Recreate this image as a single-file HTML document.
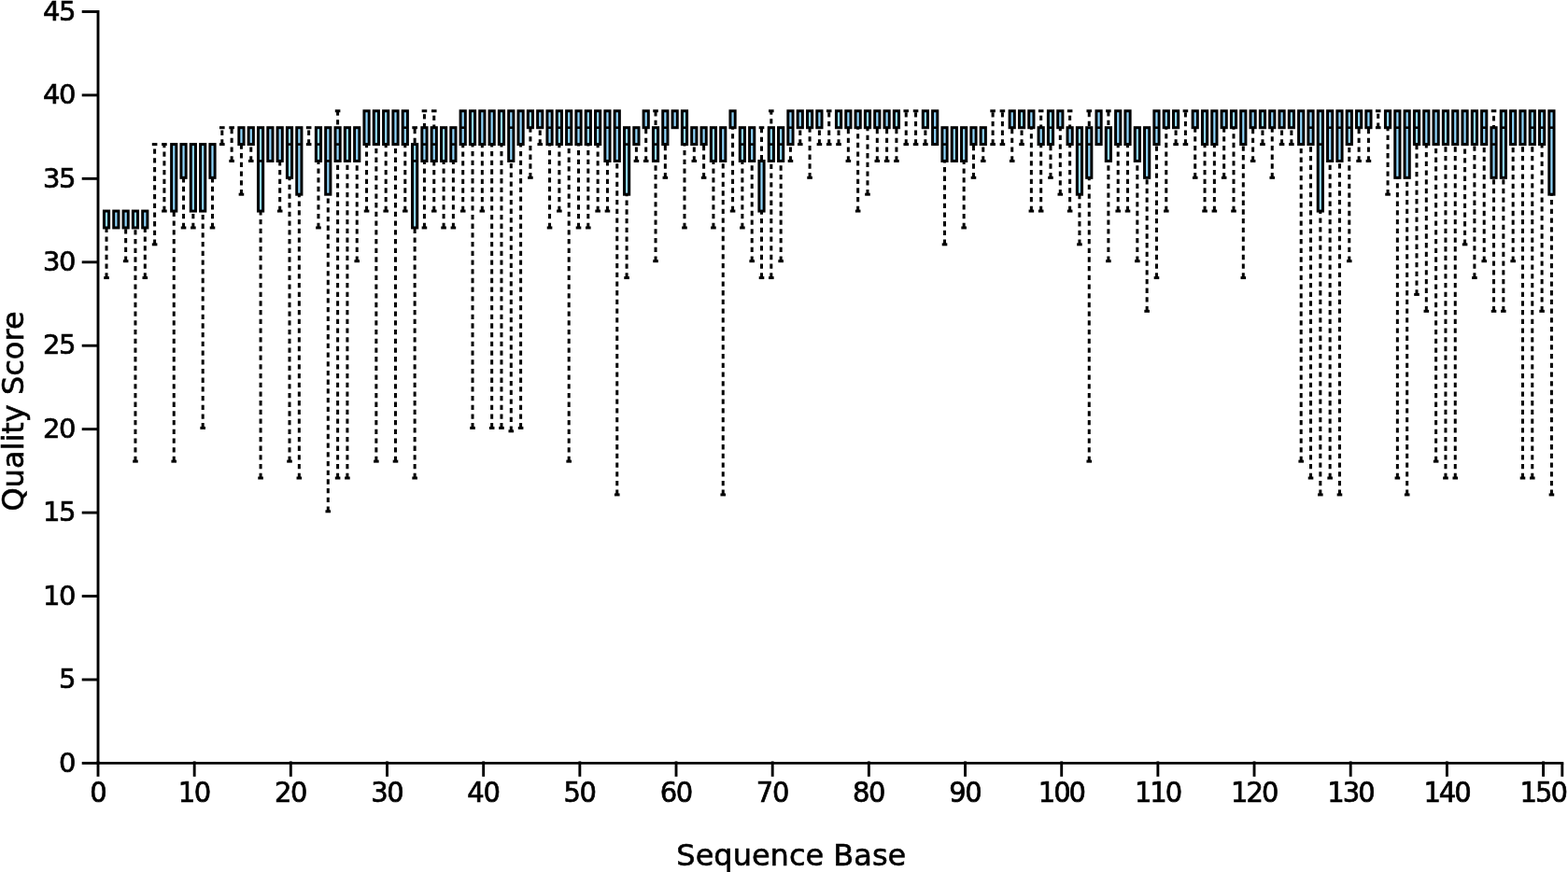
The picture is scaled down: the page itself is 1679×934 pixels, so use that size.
<!DOCTYPE html>
<html lang="en"><head><meta charset="utf-8"><title>Quality Score by Sequence Base</title>
<style>html,body{margin:0;padding:0;background:#fff;overflow:hidden}svg{display:block;filter:blur(0.35px)}text{font-family:"DejaVu Sans","Liberation Sans",sans-serif;fill:#000}</style></head><body>
<svg width="1679" height="934" viewBox="0 0 1679 934">
<rect width="1679" height="934" fill="#fff"/>
<g stroke="#000" stroke-width="3.0" fill="none" stroke-dasharray="5.3 4.405">
<path d="M114.02 297.56V226.07"/>
<path d="M134.65 279.69V226.07"/>
<path d="M144.96 494.15V226.07"/>
<path d="M155.28 297.56V226.07"/>
<path d="M165.6 261.82V154.59"/>
<path d="M175.91 226.07V154.59"/>
<path d="M186.23 494.15V154.59"/>
<path d="M196.54 243.95V154.59"/>
<path d="M206.86 243.95V154.59"/>
<path d="M217.18 458.41V154.59"/>
<path d="M227.49 243.95V154.59"/>
<path d="M237.81 154.59V136.71"/>
<path d="M248.12 172.46V136.71"/>
<path d="M258.44 208.2V136.71"/>
<path d="M268.76 172.46V136.71"/>
<path d="M279.07 512.03V136.71"/>
<path d="M299.7 226.07V136.71"/>
<path d="M310.02 494.15V136.71"/>
<path d="M320.34 512.03V136.71"/>
<path d="M330.65 154.59V136.71"/>
<path d="M340.97 243.95V136.71"/>
<path d="M351.28 547.77V136.71"/>
<path d="M361.6 512.03V118.84"/>
<path d="M371.92 512.03V136.71"/>
<path d="M382.23 279.69V136.71"/>
<path d="M392.55 226.07V118.84"/>
<path d="M402.86 494.15V118.84"/>
<path d="M413.18 226.07V118.84"/>
<path d="M423.5 494.15V118.84"/>
<path d="M433.81 226.07V118.84"/>
<path d="M444.13 512.03V136.71"/>
<path d="M454.44 243.95V118.84"/>
<path d="M464.76 226.07V118.84"/>
<path d="M475.08 243.95V136.71"/>
<path d="M485.39 243.95V136.71"/>
<path d="M495.71 226.07V118.84"/>
<path d="M506.02 458.41V118.84"/>
<path d="M516.34 226.07V118.84"/>
<path d="M526.66 458.41V118.84"/>
<path d="M536.97 458.41V118.84"/>
<path d="M547.29 461.81V118.84"/>
<path d="M557.6 458.41V118.84"/>
<path d="M567.92 190.33V118.84"/>
<path d="M578.24 154.59V118.84"/>
<path d="M588.55 243.95V118.84"/>
<path d="M598.87 226.07V118.84"/>
<path d="M609.18 494.15V118.84"/>
<path d="M619.5 243.95V118.84"/>
<path d="M629.82 243.95V118.84"/>
<path d="M640.13 226.07V118.84"/>
<path d="M650.45 226.07V118.84"/>
<path d="M660.76 529.9V118.84"/>
<path d="M671.08 297.56V136.71"/>
<path d="M681.4 172.46V136.71"/>
<path d="M691.71 172.46V118.84"/>
<path d="M702.03 279.69V118.84"/>
<path d="M712.34 190.33V118.84"/>
<path d="M732.98 243.95V118.84"/>
<path d="M743.29 172.46V136.71"/>
<path d="M753.61 190.33V136.71"/>
<path d="M763.92 243.95V136.71"/>
<path d="M774.24 529.9V136.71"/>
<path d="M784.56 226.07V118.84"/>
<path d="M794.87 243.95V136.71"/>
<path d="M805.19 279.69V136.71"/>
<path d="M815.5 297.56V136.71"/>
<path d="M825.82 297.56V118.84"/>
<path d="M836.14 279.69V136.71"/>
<path d="M846.45 172.46V118.84"/>
<path d="M856.77 154.59V118.84"/>
<path d="M867.08 190.33V118.84"/>
<path d="M877.4 154.59V118.84"/>
<path d="M887.72 154.59V118.84"/>
<path d="M898.03 154.59V118.84"/>
<path d="M908.35 172.46V118.84"/>
<path d="M918.66 226.07V118.84"/>
<path d="M928.98 208.2V118.84"/>
<path d="M939.3 172.46V118.84"/>
<path d="M949.61 172.46V118.84"/>
<path d="M959.93 172.46V118.84"/>
<path d="M970.24 154.59V118.84"/>
<path d="M980.56 154.59V118.84"/>
<path d="M990.88 154.59V118.84"/>
<path d="M1011.51 261.82V136.71"/>
<path d="M1032.14 243.95V136.71"/>
<path d="M1042.46 190.33V136.71"/>
<path d="M1052.77 172.46V136.71"/>
<path d="M1063.09 154.59V118.84"/>
<path d="M1073.4 154.59V118.84"/>
<path d="M1083.72 172.46V118.84"/>
<path d="M1094.04 154.59V118.84"/>
<path d="M1104.35 226.07V118.84"/>
<path d="M1114.67 226.07V118.84"/>
<path d="M1124.98 190.33V118.84"/>
<path d="M1135.3 208.2V118.84"/>
<path d="M1145.62 226.07V118.84"/>
<path d="M1155.93 261.82V136.71"/>
<path d="M1166.25 494.15V118.84"/>
<path d="M1186.88 279.69V118.84"/>
<path d="M1197.2 226.07V118.84"/>
<path d="M1207.51 226.07V118.84"/>
<path d="M1217.83 279.69V136.71"/>
<path d="M1228.14 333.31V136.71"/>
<path d="M1238.46 297.56V118.84"/>
<path d="M1248.78 226.07V118.84"/>
<path d="M1259.09 154.59V118.84"/>
<path d="M1269.41 154.59V118.84"/>
<path d="M1279.72 190.33V118.84"/>
<path d="M1290.04 226.07V118.84"/>
<path d="M1300.36 226.07V118.84"/>
<path d="M1310.67 190.33V118.84"/>
<path d="M1320.99 226.07V118.84"/>
<path d="M1331.3 297.56V118.84"/>
<path d="M1341.62 172.46V118.84"/>
<path d="M1351.94 154.59V118.84"/>
<path d="M1362.25 190.33V118.84"/>
<path d="M1372.57 154.59V118.84"/>
<path d="M1382.88 154.59V118.84"/>
<path d="M1393.2 494.15V118.84"/>
<path d="M1403.52 512.03V118.84"/>
<path d="M1413.83 529.9V118.84"/>
<path d="M1424.15 512.03V118.84"/>
<path d="M1434.46 529.9V118.84"/>
<path d="M1444.78 279.69V118.84"/>
<path d="M1455.1 172.46V118.84"/>
<path d="M1465.41 172.46V118.84"/>
<path d="M1475.73 136.71V118.84"/>
<path d="M1486.04 208.2V118.84"/>
<path d="M1496.36 512.03V118.84"/>
<path d="M1506.68 529.9V118.84"/>
<path d="M1516.99 315.43V118.84"/>
<path d="M1527.31 333.31V118.84"/>
<path d="M1537.62 494.15V118.84"/>
<path d="M1547.94 512.03V118.84"/>
<path d="M1558.26 512.03V118.84"/>
<path d="M1568.57 261.82V118.84"/>
<path d="M1578.89 297.56V118.84"/>
<path d="M1589.2 279.69V118.84"/>
<path d="M1599.52 333.31V118.84"/>
<path d="M1609.84 333.31V118.84"/>
<path d="M1620.15 279.69V118.84"/>
<path d="M1630.47 512.03V118.84"/>
<path d="M1640.78 512.03V118.84"/>
<path d="M1651.1 333.31V118.84"/>
<path d="M1661.42 529.9V118.84"/>
</g>
<g stroke="#000" stroke-width="3.0" fill="none">
<path d="M111.22 297.56h5.6"/>
<path d="M131.85 279.69h5.6"/>
<path d="M142.16 494.15h5.6"/>
<path d="M152.48 297.56h5.6"/>
<path d="M162.8 154.59h5.6"/>
<path d="M162.8 261.82h5.6"/>
<path d="M173.11 154.59h5.6"/>
<path d="M173.11 226.07h5.6"/>
<path d="M183.43 494.15h5.6"/>
<path d="M193.74 243.95h5.6"/>
<path d="M204.06 243.95h5.6"/>
<path d="M214.38 458.41h5.6"/>
<path d="M224.69 243.95h5.6"/>
<path d="M235.01 136.71h5.6"/>
<path d="M235.01 154.59h5.6"/>
<path d="M245.32 136.71h5.6"/>
<path d="M245.32 172.46h5.6"/>
<path d="M255.64 208.2h5.6"/>
<path d="M265.96 172.46h5.6"/>
<path d="M276.27 512.03h5.6"/>
<path d="M296.9 226.07h5.6"/>
<path d="M307.22 494.15h5.6"/>
<path d="M317.54 512.03h5.6"/>
<path d="M327.85 136.71h5.6"/>
<path d="M327.85 154.59h5.6"/>
<path d="M338.17 243.95h5.6"/>
<path d="M348.48 547.77h5.6"/>
<path d="M358.8 118.84h5.6"/>
<path d="M358.8 512.03h5.6"/>
<path d="M369.12 512.03h5.6"/>
<path d="M379.43 279.69h5.6"/>
<path d="M389.75 226.07h5.6"/>
<path d="M400.06 494.15h5.6"/>
<path d="M410.38 226.07h5.6"/>
<path d="M420.7 494.15h5.6"/>
<path d="M431.01 226.07h5.6"/>
<path d="M441.33 136.71h5.6"/>
<path d="M441.33 512.03h5.6"/>
<path d="M451.64 118.84h5.6"/>
<path d="M451.64 243.95h5.6"/>
<path d="M461.96 118.84h5.6"/>
<path d="M461.96 226.07h5.6"/>
<path d="M472.28 243.95h5.6"/>
<path d="M482.59 243.95h5.6"/>
<path d="M492.91 226.07h5.6"/>
<path d="M503.22 458.41h5.6"/>
<path d="M513.54 226.07h5.6"/>
<path d="M523.86 458.41h5.6"/>
<path d="M534.17 458.41h5.6"/>
<path d="M544.49 461.81h5.6"/>
<path d="M554.8 458.41h5.6"/>
<path d="M565.12 190.33h5.6"/>
<path d="M575.44 154.59h5.6"/>
<path d="M585.75 243.95h5.6"/>
<path d="M596.07 226.07h5.6"/>
<path d="M606.38 494.15h5.6"/>
<path d="M616.7 243.95h5.6"/>
<path d="M627.02 243.95h5.6"/>
<path d="M637.33 226.07h5.6"/>
<path d="M647.65 226.07h5.6"/>
<path d="M657.96 529.9h5.6"/>
<path d="M668.28 297.56h5.6"/>
<path d="M678.6 172.46h5.6"/>
<path d="M688.91 172.46h5.6"/>
<path d="M699.23 118.84h5.6"/>
<path d="M699.23 279.69h5.6"/>
<path d="M709.54 190.33h5.6"/>
<path d="M730.18 243.95h5.6"/>
<path d="M740.49 172.46h5.6"/>
<path d="M750.81 190.33h5.6"/>
<path d="M761.12 243.95h5.6"/>
<path d="M771.44 529.9h5.6"/>
<path d="M781.76 226.07h5.6"/>
<path d="M792.07 243.95h5.6"/>
<path d="M802.39 279.69h5.6"/>
<path d="M812.7 136.71h5.6"/>
<path d="M812.7 297.56h5.6"/>
<path d="M823.02 118.84h5.6"/>
<path d="M823.02 297.56h5.6"/>
<path d="M833.34 279.69h5.6"/>
<path d="M843.65 172.46h5.6"/>
<path d="M853.97 154.59h5.6"/>
<path d="M864.28 190.33h5.6"/>
<path d="M874.6 154.59h5.6"/>
<path d="M884.92 118.84h5.6"/>
<path d="M884.92 154.59h5.6"/>
<path d="M895.23 154.59h5.6"/>
<path d="M905.55 172.46h5.6"/>
<path d="M915.86 226.07h5.6"/>
<path d="M926.18 208.2h5.6"/>
<path d="M936.5 172.46h5.6"/>
<path d="M946.81 172.46h5.6"/>
<path d="M957.13 172.46h5.6"/>
<path d="M967.44 118.84h5.6"/>
<path d="M967.44 154.59h5.6"/>
<path d="M977.76 118.84h5.6"/>
<path d="M977.76 154.59h5.6"/>
<path d="M988.08 154.59h5.6"/>
<path d="M1008.71 261.82h5.6"/>
<path d="M1029.34 243.95h5.6"/>
<path d="M1039.66 190.33h5.6"/>
<path d="M1049.97 172.46h5.6"/>
<path d="M1060.29 118.84h5.6"/>
<path d="M1060.29 154.59h5.6"/>
<path d="M1070.6 118.84h5.6"/>
<path d="M1070.6 154.59h5.6"/>
<path d="M1080.92 172.46h5.6"/>
<path d="M1091.24 154.59h5.6"/>
<path d="M1101.55 226.07h5.6"/>
<path d="M1111.87 118.84h5.6"/>
<path d="M1111.87 226.07h5.6"/>
<path d="M1122.18 190.33h5.6"/>
<path d="M1132.5 208.2h5.6"/>
<path d="M1142.82 118.84h5.6"/>
<path d="M1142.82 226.07h5.6"/>
<path d="M1153.13 261.82h5.6"/>
<path d="M1163.45 118.84h5.6"/>
<path d="M1163.45 494.15h5.6"/>
<path d="M1184.08 118.84h5.6"/>
<path d="M1184.08 279.69h5.6"/>
<path d="M1194.4 226.07h5.6"/>
<path d="M1204.71 226.07h5.6"/>
<path d="M1215.03 279.69h5.6"/>
<path d="M1225.34 333.31h5.6"/>
<path d="M1235.66 297.56h5.6"/>
<path d="M1245.98 226.07h5.6"/>
<path d="M1256.29 154.59h5.6"/>
<path d="M1266.61 118.84h5.6"/>
<path d="M1266.61 154.59h5.6"/>
<path d="M1276.92 190.33h5.6"/>
<path d="M1287.24 226.07h5.6"/>
<path d="M1297.56 226.07h5.6"/>
<path d="M1307.87 190.33h5.6"/>
<path d="M1318.19 226.07h5.6"/>
<path d="M1328.5 297.56h5.6"/>
<path d="M1338.82 172.46h5.6"/>
<path d="M1349.14 154.59h5.6"/>
<path d="M1359.45 190.33h5.6"/>
<path d="M1369.77 154.59h5.6"/>
<path d="M1380.08 154.59h5.6"/>
<path d="M1390.4 494.15h5.6"/>
<path d="M1400.72 512.03h5.6"/>
<path d="M1411.03 529.9h5.6"/>
<path d="M1421.35 512.03h5.6"/>
<path d="M1431.66 529.9h5.6"/>
<path d="M1441.98 279.69h5.6"/>
<path d="M1452.3 172.46h5.6"/>
<path d="M1462.61 172.46h5.6"/>
<path d="M1472.93 118.84h5.6"/>
<path d="M1472.93 136.71h5.6"/>
<path d="M1483.24 208.2h5.6"/>
<path d="M1493.56 512.03h5.6"/>
<path d="M1503.88 529.9h5.6"/>
<path d="M1514.19 315.43h5.6"/>
<path d="M1524.51 333.31h5.6"/>
<path d="M1534.82 494.15h5.6"/>
<path d="M1545.14 512.03h5.6"/>
<path d="M1555.46 512.03h5.6"/>
<path d="M1565.77 261.82h5.6"/>
<path d="M1576.09 297.56h5.6"/>
<path d="M1586.4 279.69h5.6"/>
<path d="M1596.72 118.84h5.6"/>
<path d="M1596.72 333.31h5.6"/>
<path d="M1607.04 333.31h5.6"/>
<path d="M1617.35 279.69h5.6"/>
<path d="M1627.67 512.03h5.6"/>
<path d="M1637.98 512.03h5.6"/>
<path d="M1648.3 333.31h5.6"/>
<path d="M1658.62 529.9h5.6"/>
</g>
<g stroke="#000" stroke-width="3.0" fill="#90d6fc">
<rect x="111.42" y="226.07" width="5.2" height="17.87"/>
<rect x="121.73" y="226.07" width="5.2" height="17.87"/>
<rect x="132.05" y="226.07" width="5.2" height="17.87"/>
<rect x="142.36" y="226.07" width="5.2" height="17.87"/>
<rect x="152.68" y="226.07" width="5.2" height="17.87"/>
<rect x="183.63" y="154.59" width="5.2" height="71.49"/>
<rect x="193.94" y="154.59" width="5.2" height="35.74"/>
<rect x="204.26" y="154.59" width="5.2" height="71.49"/>
<rect x="214.58" y="154.59" width="5.2" height="71.49"/>
<rect x="224.89" y="154.59" width="5.2" height="35.74"/>
<rect x="255.84" y="136.71" width="5.2" height="17.87"/>
<rect x="266.16" y="136.71" width="5.2" height="17.87"/>
<rect x="276.47" y="136.71" width="5.2" height="89.36"/>
<rect x="286.79" y="136.71" width="5.2" height="35.74"/>
<rect x="297.1" y="136.71" width="5.2" height="35.74"/>
<rect x="307.42" y="136.71" width="5.2" height="53.62"/>
<rect x="317.74" y="136.71" width="5.2" height="71.49"/>
<rect x="338.37" y="136.71" width="5.2" height="35.74"/>
<rect x="348.68" y="136.71" width="5.2" height="71.49"/>
<rect x="359" y="136.71" width="5.2" height="35.74"/>
<rect x="369.32" y="136.71" width="5.2" height="35.74"/>
<rect x="379.63" y="136.71" width="5.2" height="35.74"/>
<rect x="389.95" y="118.84" width="5.2" height="35.74"/>
<rect x="400.26" y="118.84" width="5.2" height="35.74"/>
<rect x="410.58" y="118.84" width="5.2" height="35.74"/>
<rect x="420.9" y="118.84" width="5.2" height="35.74"/>
<rect x="431.21" y="118.84" width="5.2" height="35.74"/>
<rect x="441.53" y="154.59" width="5.2" height="89.36"/>
<rect x="451.84" y="136.71" width="5.2" height="35.74"/>
<rect x="462.16" y="136.71" width="5.2" height="35.74"/>
<rect x="472.48" y="136.71" width="5.2" height="35.74"/>
<rect x="482.79" y="136.71" width="5.2" height="35.74"/>
<rect x="493.11" y="118.84" width="5.2" height="35.74"/>
<rect x="503.42" y="118.84" width="5.2" height="35.74"/>
<rect x="513.74" y="118.84" width="5.2" height="35.74"/>
<rect x="524.06" y="118.84" width="5.2" height="35.74"/>
<rect x="534.37" y="118.84" width="5.2" height="35.74"/>
<rect x="544.69" y="118.84" width="5.2" height="53.62"/>
<rect x="555" y="118.84" width="5.2" height="35.74"/>
<rect x="565.32" y="118.84" width="5.2" height="17.87"/>
<rect x="575.64" y="118.84" width="5.2" height="17.87"/>
<rect x="585.95" y="118.84" width="5.2" height="35.74"/>
<rect x="596.27" y="118.84" width="5.2" height="35.74"/>
<rect x="606.58" y="118.84" width="5.2" height="35.74"/>
<rect x="616.9" y="118.84" width="5.2" height="35.74"/>
<rect x="627.22" y="118.84" width="5.2" height="35.74"/>
<rect x="637.53" y="118.84" width="5.2" height="35.74"/>
<rect x="647.85" y="118.84" width="5.2" height="53.62"/>
<rect x="658.16" y="118.84" width="5.2" height="53.62"/>
<rect x="668.48" y="136.71" width="5.2" height="71.49"/>
<rect x="678.8" y="136.71" width="5.2" height="17.87"/>
<rect x="689.11" y="118.84" width="5.2" height="17.87"/>
<rect x="699.43" y="136.71" width="5.2" height="35.74"/>
<rect x="709.74" y="118.84" width="5.2" height="35.74"/>
<rect x="720.06" y="118.84" width="5.2" height="17.87"/>
<rect x="730.38" y="118.84" width="5.2" height="35.74"/>
<rect x="740.69" y="136.71" width="5.2" height="17.87"/>
<rect x="751.01" y="136.71" width="5.2" height="17.87"/>
<rect x="761.32" y="136.71" width="5.2" height="35.74"/>
<rect x="771.64" y="136.71" width="5.2" height="35.74"/>
<rect x="781.96" y="118.84" width="5.2" height="17.87"/>
<rect x="792.27" y="136.71" width="5.2" height="35.74"/>
<rect x="802.59" y="136.71" width="5.2" height="35.74"/>
<rect x="812.9" y="172.46" width="5.2" height="53.62"/>
<rect x="823.22" y="136.71" width="5.2" height="35.74"/>
<rect x="833.54" y="136.71" width="5.2" height="35.74"/>
<rect x="843.85" y="118.84" width="5.2" height="35.74"/>
<rect x="854.17" y="118.84" width="5.2" height="17.87"/>
<rect x="864.48" y="118.84" width="5.2" height="17.87"/>
<rect x="874.8" y="118.84" width="5.2" height="17.87"/>
<rect x="895.43" y="118.84" width="5.2" height="17.87"/>
<rect x="905.75" y="118.84" width="5.2" height="17.87"/>
<rect x="916.06" y="118.84" width="5.2" height="17.87"/>
<rect x="926.38" y="118.84" width="5.2" height="17.87"/>
<rect x="936.7" y="118.84" width="5.2" height="17.87"/>
<rect x="947.01" y="118.84" width="5.2" height="17.87"/>
<rect x="957.33" y="118.84" width="5.2" height="17.87"/>
<rect x="988.28" y="118.84" width="5.2" height="17.87"/>
<rect x="998.59" y="118.84" width="5.2" height="35.74"/>
<rect x="1008.91" y="136.71" width="5.2" height="35.74"/>
<rect x="1019.22" y="136.71" width="5.2" height="35.74"/>
<rect x="1029.54" y="136.71" width="5.2" height="35.74"/>
<rect x="1039.86" y="136.71" width="5.2" height="17.87"/>
<rect x="1050.17" y="136.71" width="5.2" height="17.87"/>
<rect x="1081.12" y="118.84" width="5.2" height="17.87"/>
<rect x="1091.44" y="118.84" width="5.2" height="17.87"/>
<rect x="1101.75" y="118.84" width="5.2" height="17.87"/>
<rect x="1112.07" y="136.71" width="5.2" height="17.87"/>
<rect x="1122.38" y="118.84" width="5.2" height="35.74"/>
<rect x="1132.7" y="118.84" width="5.2" height="17.87"/>
<rect x="1143.02" y="136.71" width="5.2" height="17.87"/>
<rect x="1153.33" y="136.71" width="5.2" height="71.49"/>
<rect x="1163.65" y="136.71" width="5.2" height="53.62"/>
<rect x="1173.96" y="118.84" width="5.2" height="35.74"/>
<rect x="1184.28" y="136.71" width="5.2" height="35.74"/>
<rect x="1194.6" y="118.84" width="5.2" height="35.74"/>
<rect x="1204.91" y="118.84" width="5.2" height="35.74"/>
<rect x="1215.23" y="136.71" width="5.2" height="35.74"/>
<rect x="1225.54" y="136.71" width="5.2" height="53.62"/>
<rect x="1235.86" y="118.84" width="5.2" height="35.74"/>
<rect x="1246.18" y="118.84" width="5.2" height="17.87"/>
<rect x="1256.49" y="118.84" width="5.2" height="17.87"/>
<rect x="1277.12" y="118.84" width="5.2" height="17.87"/>
<rect x="1287.44" y="118.84" width="5.2" height="35.74"/>
<rect x="1297.76" y="118.84" width="5.2" height="35.74"/>
<rect x="1308.07" y="118.84" width="5.2" height="17.87"/>
<rect x="1318.39" y="118.84" width="5.2" height="17.87"/>
<rect x="1328.7" y="118.84" width="5.2" height="35.74"/>
<rect x="1339.02" y="118.84" width="5.2" height="17.87"/>
<rect x="1349.34" y="118.84" width="5.2" height="17.87"/>
<rect x="1359.65" y="118.84" width="5.2" height="17.87"/>
<rect x="1369.97" y="118.84" width="5.2" height="17.87"/>
<rect x="1380.28" y="118.84" width="5.2" height="17.87"/>
<rect x="1390.6" y="118.84" width="5.2" height="35.74"/>
<rect x="1400.92" y="118.84" width="5.2" height="35.74"/>
<rect x="1411.23" y="118.84" width="5.2" height="107.23"/>
<rect x="1421.55" y="118.84" width="5.2" height="53.62"/>
<rect x="1431.86" y="118.84" width="5.2" height="53.62"/>
<rect x="1442.18" y="118.84" width="5.2" height="35.74"/>
<rect x="1452.5" y="118.84" width="5.2" height="17.87"/>
<rect x="1462.81" y="118.84" width="5.2" height="17.87"/>
<rect x="1483.44" y="118.84" width="5.2" height="17.87"/>
<rect x="1493.76" y="118.84" width="5.2" height="71.49"/>
<rect x="1504.08" y="118.84" width="5.2" height="71.49"/>
<rect x="1514.39" y="118.84" width="5.2" height="35.74"/>
<rect x="1524.71" y="118.84" width="5.2" height="35.74"/>
<rect x="1535.02" y="118.84" width="5.2" height="35.74"/>
<rect x="1545.34" y="118.84" width="5.2" height="35.74"/>
<rect x="1555.66" y="118.84" width="5.2" height="35.74"/>
<rect x="1565.97" y="118.84" width="5.2" height="35.74"/>
<rect x="1576.29" y="118.84" width="5.2" height="35.74"/>
<rect x="1586.6" y="118.84" width="5.2" height="35.74"/>
<rect x="1596.92" y="136.71" width="5.2" height="53.62"/>
<rect x="1607.24" y="118.84" width="5.2" height="71.49"/>
<rect x="1617.55" y="118.84" width="5.2" height="35.74"/>
<rect x="1627.87" y="118.84" width="5.2" height="35.74"/>
<rect x="1638.18" y="118.84" width="5.2" height="35.74"/>
<rect x="1648.5" y="118.84" width="5.2" height="35.74"/>
<rect x="1658.82" y="118.84" width="5.2" height="89.36"/>
</g>
<g stroke="#000" stroke-width="2.6" fill="none">
<path d="M276.47 172.46h5.2"/>
<path d="M307.42 154.59h5.2"/>
<path d="M317.74 154.59h5.2"/>
<path d="M338.37 154.59h5.2"/>
<path d="M348.68 172.46h5.2"/>
<path d="M359 154.59h5.2"/>
<path d="M431.21 136.71h5.2"/>
<path d="M441.53 172.46h5.2"/>
<path d="M451.84 154.59h5.2"/>
<path d="M462.16 154.59h5.2"/>
<path d="M482.79 154.59h5.2"/>
<path d="M493.11 136.71h5.2"/>
<path d="M544.69 136.71h5.2"/>
<path d="M585.95 136.71h5.2"/>
<path d="M596.27 136.71h5.2"/>
<path d="M606.58 136.71h5.2"/>
<path d="M616.9 136.71h5.2"/>
<path d="M627.22 136.71h5.2"/>
<path d="M637.53 136.71h5.2"/>
<path d="M647.85 136.71h5.2"/>
<path d="M658.16 136.71h5.2"/>
<path d="M668.48 154.59h5.2"/>
<path d="M699.43 154.59h5.2"/>
<path d="M709.74 136.71h5.2"/>
<path d="M730.38 136.71h5.2"/>
<path d="M792.27 154.59h5.2"/>
<path d="M802.59 154.59h5.2"/>
<path d="M823.22 154.59h5.2"/>
<path d="M833.54 154.59h5.2"/>
<path d="M843.85 136.71h5.2"/>
<path d="M998.59 136.71h5.2"/>
<path d="M1008.91 154.59h5.2"/>
<path d="M1122.38 136.71h5.2"/>
<path d="M1153.33 154.59h5.2"/>
<path d="M1163.65 154.59h5.2"/>
<path d="M1173.96 136.71h5.2"/>
<path d="M1235.86 136.71h5.2"/>
<path d="M1400.92 136.71h5.2"/>
<path d="M1411.23 154.59h5.2"/>
<path d="M1421.55 136.71h5.2"/>
<path d="M1431.86 136.71h5.2"/>
<path d="M1442.18 136.71h5.2"/>
<path d="M1493.76 136.71h5.2"/>
<path d="M1504.08 136.71h5.2"/>
<path d="M1514.39 136.71h5.2"/>
<path d="M1586.6 136.71h5.2"/>
<path d="M1596.92 154.59h5.2"/>
<path d="M1607.24 136.71h5.2"/>
<path d="M1638.18 136.71h5.2"/>
<path d="M1648.5 136.71h5.2"/>
<path d="M1658.82 136.71h5.2"/>
</g>
<g stroke="#000" stroke-width="2.9" fill="none" stroke-linecap="butt">
<path d="M105 11.04V818.85"/>
<path d="M105 817.4H1674.25"/>
<path d="M105 817.4h-17.3"/>
<path d="M105 727.96h-17.3"/>
<path d="M105 638.53h-17.3"/>
<path d="M105 549.1h-17.3"/>
<path d="M105 459.66h-17.3"/>
<path d="M105 370.22h-17.3"/>
<path d="M105 280.79h-17.3"/>
<path d="M105 191.35h-17.3"/>
<path d="M105 101.92h-17.3"/>
<path d="M105 12.49h-17.3"/>
<path d="M105 815.4v16.4"/>
<path d="M208.17 815.4v16.4"/>
<path d="M311.34 815.4v16.4"/>
<path d="M414.51 815.4v16.4"/>
<path d="M517.68 815.4v16.4"/>
<path d="M620.85 815.4v16.4"/>
<path d="M724.02 815.4v16.4"/>
<path d="M827.19 815.4v16.4"/>
<path d="M930.36 815.4v16.4"/>
<path d="M1033.53 815.4v16.4"/>
<path d="M1136.7 815.4v16.4"/>
<path d="M1239.87 815.4v16.4"/>
<path d="M1343.04 815.4v16.4"/>
<path d="M1446.21 815.4v16.4"/>
<path d="M1549.38 815.4v16.4"/>
<path d="M1652.55 815.4v16.4"/>
<path d="M1672.8 817.4v14.4"/>
</g>
<g font-size="29" letter-spacing="-1.4" stroke="#000" stroke-width="0.7">
<text transform="translate(80.0 826.6) scale(1 0.985)" text-anchor="end">0</text>
<text transform="translate(80.0 737.16) scale(1 0.985)" text-anchor="end">5</text>
<text transform="translate(80.0 647.73) scale(1 0.985)" text-anchor="end">10</text>
<text transform="translate(80.0 558.3) scale(1 0.985)" text-anchor="end">15</text>
<text transform="translate(80.0 468.86) scale(1 0.985)" text-anchor="end">20</text>
<text transform="translate(80.0 379.42) scale(1 0.985)" text-anchor="end">25</text>
<text transform="translate(80.0 289.99) scale(1 0.985)" text-anchor="end">30</text>
<text transform="translate(80.0 200.55) scale(1 0.985)" text-anchor="end">35</text>
<text transform="translate(80.0 111.12) scale(1 0.985)" text-anchor="end">40</text>
<text transform="translate(80.0 21.69) scale(1 0.985)" text-anchor="end">45</text>
<text transform="translate(104.7 859.1) scale(1 1.015)" text-anchor="middle">0</text>
<text transform="translate(207.87 859.1) scale(1 1.015)" text-anchor="middle">10</text>
<text transform="translate(311.04 859.1) scale(1 1.015)" text-anchor="middle">20</text>
<text transform="translate(414.21 859.1) scale(1 1.015)" text-anchor="middle">30</text>
<text transform="translate(517.38 859.1) scale(1 1.015)" text-anchor="middle">40</text>
<text transform="translate(620.55 859.1) scale(1 1.015)" text-anchor="middle">50</text>
<text transform="translate(723.72 859.1) scale(1 1.015)" text-anchor="middle">60</text>
<text transform="translate(826.89 859.1) scale(1 1.015)" text-anchor="middle">70</text>
<text transform="translate(930.06 859.1) scale(1 1.015)" text-anchor="middle">80</text>
<text transform="translate(1033.23 859.1) scale(1 1.015)" text-anchor="middle">90</text>
<text transform="translate(1136.4 859.1) scale(1 1.015)" text-anchor="middle" letter-spacing="-2">100</text>
<text transform="translate(1239.57 859.1) scale(1 1.015)" text-anchor="middle" letter-spacing="-2">110</text>
<text transform="translate(1342.74 859.1) scale(1 1.015)" text-anchor="middle" letter-spacing="-2">120</text>
<text transform="translate(1445.91 859.1) scale(1 1.015)" text-anchor="middle" letter-spacing="-2">130</text>
<text transform="translate(1549.08 859.1) scale(1 1.015)" text-anchor="middle" letter-spacing="-2">140</text>
<text transform="translate(1652.25 859.1) scale(1 1.015)" text-anchor="middle" letter-spacing="-2">150</text>
</g>
<text transform="translate(847.3 927.1)" font-size="32" text-anchor="middle" stroke="#000" stroke-width="0.6">Sequence Base</text>
<text transform="translate(25.2 440.5) rotate(-90)" font-size="32" text-anchor="middle" stroke="#000" stroke-width="0.6">Quality Score</text>
</svg></body></html>
